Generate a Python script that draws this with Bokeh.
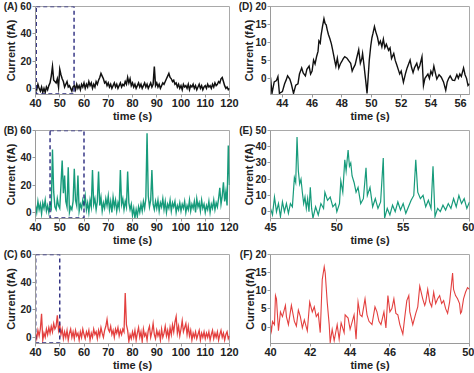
import numpy as np
from bokeh.plotting import figure
from bokeh.layouts import column, row
from bokeh.models import Range1d, FixedTicker
from bokeh.embed import file_html
from bokeh.resources import INLINE

FONT = "Liberation Sans"

# ---------------- data ----------------
a_vals = [2, -1, 3, 0, -2, 1, -3, 0, -3, 1, -1, 2, 4, 9, 16, 6, 5, 4, 7, 1, 14,
          10, 7, 5, 1, 3, 5, 1, 2, 0, -2, 1, 2, -1, 3, 0, 2, -1, 3, 1, 4,
          0, 3, 1, 5, 2, 4, 0, 3, 1, 5, 3, 6, 8, 11, 9, 7, 4, 5, 2, 4,
          1, 3, 0, 2, 4, 1, 3, 0, 2, 4, 1, 3, 2, 5, 3, 8, 4, 7, 2, 4,
          1, 3, 0, 2, 4, 1, 3, 0, 2, 4, 1, 3, 0, 2, 4, 1, 3, 16, 2, 4,
          1, 3, 0, 2, 4, 3, 5, 7, 9, 11, 8, 7, 5, 6, 3, 4, 1, 3, 0, 2,
          -1, 3, 1, 2, 0, 3, -1, 2, 1, 3, 0, 2, -1, 1, 3, 0, 2, -1, 1, 2,
          0, 3, 1, 2, 0, 3, 1, 4, 2, 3, 5, 4, 7, 8, 5, 2, 0, 1, -1, 0]

b_vals = [5, 0, 8, 2, 6, -1, 7, 3, 9, 1, 5, 0, 6, 3, 46, 15, 4, 2, 10, 5, 3,
          20, 38, 14, 27, 8, 4, 33, 0, 4, 2, 8, 32, 9, 5, 27, 1, 6, 3, 9, 5,
          12, 2, 7, 0, 9, 4, 31, 6, 10, 2, 8, 30, 5, 11, 1, 7, 3, 10, 5, 12,
          2, 8, 0, 11, 4, 9, 1, 7, 3, 31, 6, 10, 2, 8, 4, 30, 7, 2, 6, -2,
          3, -4, 2, -3, 4, 0, 6, 1, 8, 3, 10, 58, 12, 4, 9, 31, 6, 2, 8, 3,
          9, 1, 7, 4, 10, 2, 8, 0, 6, 3, 9, 1, 7, 4, 8, 0, 5, 2, 7, 1,
          6, 3, 8, 0, 5, 2, 9, 1, 6, 3, 8, 0, 10, 4, 7, 1, 9, 3, 6, 0,
          5, 2, 8, 0, 6, 3, 9, 2, 7, 4, 10, 18, 6, 12, 22, 8, 15, 5, 49, 20]

c_vals = [3, -1, 5, 1, 6, 17, -2, 3, 0, 6, 2, 7, 3, 8, 4, 10, 6, 8, 16, 5, 9,
          2, 6, -1, 4, 0, 5, -2, 3, 6, 0, 4, -1, 5, 1, 3, -2, 4, 0, 6, 2,
          -1, 4, 1, 5, -2, 3, 0, 6, 2, 4, -1, 5, 1, 7, 3, 0, 5, 8, 13, 6,
          4, 8, 2, 5, 0, 6, 3, 7, 1, 5, 2, 6, 4, 32, 9, 5, -3, 2, -1, 4,
          0, 5, -2, 3, 7, 0, 4, -3, 6, 1, 3, -2, 5, 8, 0, 4, 10, 2, -1, 5,
          1, 4, -2, 6, 0, 3, 8, 1, 5, -1, 7, 2, 9, 4, 11, 15, 3, 8, 1, 6,
          12, 4, 7, 10, 2, 8, 1, 5, -2, 3, 0, 4, -1, 2, 5, -2, 3, 0, 4, -1,
          3, 0, 4, -2, 2, 5, -1, 3, 0, 4, -2, 2, 5, 0, 3, -2, 2, 4, -1, 1]

d_t = [43.2, 43.3, 43.45, 43.6, 43.7, 43.8, 44.0, 44.15, 44.25, 44.35, 44.5, 44.6, 44.75,
       44.9, 45.05, 45.15, 45.3, 45.4, 45.55, 45.65, 45.8, 45.9, 46.0, 46.1, 46.2, 46.3,
       46.4, 46.46, 46.55, 46.6, 46.7, 46.8, 46.88, 46.95, 47.02, 47.1, 47.2, 47.3, 47.38,
       47.45, 47.52, 47.6, 47.7, 47.8, 47.9, 48.0, 48.1, 48.2, 48.35, 48.45, 48.6, 48.7,
       48.8, 48.9, 49.0, 49.14, 49.25, 49.35, 49.4, 49.5, 49.55, 49.62, 49.7, 49.78, 49.85,
       49.95, 50.03, 50.1, 50.2, 50.3, 50.4, 50.5, 50.6, 50.7, 50.8, 50.9, 51.0, 51.15,
       51.25, 51.35, 51.5, 51.6, 51.7, 51.8, 51.9, 52.0, 52.15, 52.3, 52.4, 52.5, 52.6,
       52.7, 52.8, 52.9, 53.05, 53.15, 53.25, 53.4, 53.5, 53.6, 53.8, 53.9, 54.0, 54.1,
       54.2, 54.3, 54.4, 54.55, 54.7, 54.85, 55.0, 55.1, 55.2, 55.3, 55.45, 55.6, 55.75,
       55.85, 55.95, 56.05, 56.2, 56.3, 56.4, 56.5, 56.6]
d_v = [0.3, -4.2, -1.0, -0.6, 0.5, -4.2, -3.7, -1.5, -0.5, 0.7, -0.2, -1.5, -4.2,
       -1.9, -1.5, 1.2, 2.9, 1.5, 0.7, 2.5, 3.4, 1.2, 2.0, 5.1, 4.0, 6.0,
       7.5, 10.4, 9.8, 11.8, 14.4, 16.6, 15.2, 14.9, 13.5, 12.2, 11.0, 9.6, 8.0,
       6.5, 5.0, 3.4, 5.6, 2.9, 4.0, 4.7, 5.5, 6.0, 5.6, 5.0, 4.2, 2.0,
       3.0, 3.8, 5.6, 8.0, 4.2, 5.5, 6.9, 3.5, 1.6, -1.0, -4.2, 0.5, 5.0,
       9.0, 11.3, 12.5, 14.4, 12.8, 11.5, 9.5, 10.4, 8.8, 10.9, 8.5, 9.5, 7.8,
       8.5, 5.5, 6.9, 5.0, 3.8, 2.5, 1.2, 2.0, -1.1, 1.5, 2.9, 4.0, 5.1,
       3.0, 1.6, 3.0, 4.2, 2.5, 3.5, 6.0, -2.0, 0.0, 1.2, 0.0, 2.0, 1.0,
       3.4, 1.5, -0.2, 1.0, 0.3, -1.0, -3.3, -1.0, 0.0, 0.7, -0.5, -0.6, 1.0,
       0.0, 1.2, 0.5, 2.9, 1.0, 0.0, -2.0, -1.5]

e_t = [45.0, 45.15, 45.3, 45.45, 45.6, 45.75, 45.9, 46.05, 46.2, 46.35, 46.5, 46.65, 46.8,
       46.9, 47.0, 47.1, 47.2, 47.3, 47.4, 47.5, 47.6, 47.7, 47.8, 47.9, 48.0, 48.1,
       48.2, 48.4, 48.6, 48.8, 49.0, 49.1, 49.3, 49.5, 49.7, 49.9, 50.0, 50.2, 50.3,
       50.45, 50.6, 50.7, 50.85, 50.95, 51.05, 51.15, 51.3, 51.45, 51.6, 51.8, 52.0, 52.2,
       52.3, 52.5, 52.7, 52.9, 53.1, 53.3, 53.5, 53.6, 53.8, 54.0, 54.2, 54.4, 54.6,
       54.8, 55.0, 55.2, 55.4, 55.6, 55.8, 55.95, 56.1, 56.3, 56.5, 56.7, 56.9, 57.1,
       57.25, 57.4, 57.6, 57.8, 58.0, 58.2, 58.4, 58.6, 58.8, 59.0, 59.2, 59.4, 59.6,
       59.8, 60.0]
e_v = [2, -2, 9, 0, 5, -3, 6, 0, 5, -1, 5, 3, 21,
       18, 46, 25, 17, 20, 12, 5, 9, 2, 8, 0, 15, 2,
       -4, 3, -2, 5, 2, 12, 7, 9, 3, 5, 0, 5, 19,
       12, 32, 25, 38, 28, 30, 22, 18, 12, 15, 5, 8, 27,
       10, 15, 3, 8, 2, 6, 33, -4, 2, -2, 4, 0, 6,
       1, 5, -1, 3, 7, 10, 32, 12, 8, 10, 3, 7, 2,
       28, -3, 2, 0, 4, 1, 5, 2, 8, 3, 10, 5, 8,
       2, 6]

f_t = [40.0, 40.05, 40.1, 40.2, 40.25, 40.3, 40.4, 40.5, 40.6, 40.75, 40.8, 40.9, 41.05,
       41.2, 41.3, 41.4, 41.5, 41.6, 41.7, 41.85, 41.97, 42.1, 42.2, 42.3, 42.4, 42.5,
       42.6, 42.7, 42.75, 42.85, 42.95, 43.0, 43.1, 43.2, 43.35, 43.45, 43.55, 43.7, 43.75,
       43.9, 44.0, 44.2, 44.3, 44.4, 44.5, 44.6, 44.75, 44.85, 44.95, 45.1, 45.25, 45.35,
       45.45, 45.55, 45.7, 45.8, 45.9, 46.0, 46.1, 46.2, 46.3, 46.4, 46.5, 46.65, 46.75,
       46.85, 46.95, 47.0, 47.15, 47.3, 47.4, 47.5, 47.65, 47.75, 47.8, 47.9, 48.0, 48.1,
       48.2, 48.3, 48.4, 48.5, 48.6, 48.7, 48.8, 48.9, 49.0, 49.15, 49.2, 49.3, 49.4,
       49.5, 49.55, 49.6, 49.7, 49.8, 49.9, 50.0]
f_v = [0.7, -1.0, 1.6, 0.7, 8.7, 7.8, -1.0, 4.2, 2.9, 6.0, 2.9, 0.7, 6.0,
       1.6, 0.3, 4.7, 2.9, -0.2, 2.0, -1.0, 6.9, 4.2, 5.6, 2.9, 3.8, -1.5,
       13.1, 16.6, 14.9, 6.9, 0.7, -4.2, -0.6, -3.7, 0.7, -3.3, 1.2, -1.5, 3.4,
       2.5, -0.6, 3.4, -3.3, 6.9, 3.4, 2.9, 7.8, 3.4, 1.6, 0.7, 5.6, 4.2,
       1.6, 0.7, 4.2, -0.2, 8.7, 4.2, 5.1, 7.8, 3.8, 3.4, 0.7, -1.9, 2.9,
       7.3, 8.7, 4.2, 0.7, 3.8, 5.6, 11.3, 7.8, 6.0, 6.9, 10.4, 6.9, 5.6,
       9.6, 6.5, 7.8, 8.7, 6.5, 7.3, 5.1, 3.8, 6.9, 14.9, 10.4, 8.7, 7.8,
       6.5, 3.8, 4.2, 7.8, 9.6, 10.9, 10.4]

wide_x = [40, 120]
wide_y = [-4.5, 60]
wide_xt = [40, 50, 60, 70, 80, 90, 100, 110, 120]
wide_yt = [0, 20, 40, 60]
d_x, d_y, d_xt, d_yt = [43.2, 56.6], [-4.5, 20], [44, 46, 48, 50, 52, 54, 56], [0, 5, 10, 15, 20]
e_x, e_y, e_xt, e_yt = [45, 60], [-4.2, 50], [45, 50, 55, 60], [0, 10, 20, 30, 40, 50]
f_x, f_y, f_xt, f_yt = [40, 50], [-4.5, 20], [40, 42, 44, 46, 48, 50], [0, 5, 10, 15, 20]

box_a = [40.3, 55.9]
box_b = [46.0, 60.0]
box_c = [40.1, 50.0]

BLACK = "#111111"
GREEN = "#179b7b"
RED = "#e3403f"
BOX = "#2a2a7e"


def panel(letter, t, v, color, xr, yr, xt, yt, w, h, bl, br, bt, label_shift, box=None, lw=1.1):
    p = figure(width=w, height=h, output_backend="svg", toolbar_location=None, tools="",
               x_range=Range1d(*xr), y_range=Range1d(*yr),
               min_border_left=bl, min_border_right=br, min_border_top=bt, min_border_bottom=29)
    p.grid.visible = False
    p.outline_line_color = "#a9a9a9"
    p.outline_line_width = 1
    for ax in (p.xaxis[0], p.yaxis[0]):
        ax.axis_line_color = "#9a9a9a"
        ax.major_tick_line_color = "#9a9a9a"
        ax.minor_tick_line_color = None
        ax.major_tick_in = 0
        ax.major_tick_out = 3
        ax.major_label_text_font = FONT
        ax.major_label_text_font_style = "bold"
        ax.major_label_text_color = "#222222"
        ax.axis_label_text_font = FONT
        ax.axis_label_text_font_style = "bold"
        ax.axis_label_text_color = "#222222"
        ax.axis_label_text_font_size = "11px"
        ax.major_label_standoff = 1
        ax.axis_label_standoff = 0
    p.xaxis[0].major_label_text_font_size = "11px"
    p.yaxis[0].major_label_text_font_size = "10px"
    p.xaxis[0].ticker = FixedTicker(ticks=xt)
    p.yaxis[0].ticker = FixedTicker(ticks=yt)
    p.xaxis[0].axis_label = "time (s)"
    p.yaxis[0].axis_label = "Current (fA)"
    # panel letter shown beside the top y tick label, as in the reference
    p.yaxis[0].major_label_overrides = {yt[-1]: f"({letter}) {yt[-1]}"}
    p.yaxis[0].axis_label_standoff = label_shift
    p.line(t, v, line_color=color, line_width=lw, line_join="miter")
    if box is not None:
        p.quad(left=[box[0]], right=[box[1]], bottom=[yr[0] + 0.4], top=[yr[1]],
               fill_alpha=0, line_color=BOX, line_dash="4 3", line_width=1.4)
    return p


def wide_t(vals):
    return np.linspace(wide_x[0], wide_x[1], len(vals))


WL, WR = 239, 235
pa = panel("A", wide_t(a_vals), a_vals, BLACK, wide_x, wide_y, wide_xt, wide_yt, WL, 124, 35, 10, 6, -16, box_a, lw=1.5)
pd = panel("D", d_t, d_v, BLACK, d_x, d_y, d_xt, d_yt, WR, 124, 31, 5, 6, -19, lw=1.4)
pb = panel("B", wide_t(b_vals), b_vals, GREEN, wide_x, wide_y, wide_xt, wide_yt, WL, 124, 35, 10, 6, -16, box_b, lw=1.4)
pe = panel("E", e_t, e_v, GREEN, e_x, e_y, e_xt, e_yt, WR, 124, 31, 5, 6, -19, lw=1.2)
pc = panel("C", wide_t(c_vals), c_vals, RED, wide_x, wide_y, wide_xt, wide_yt, WL, 125, 35, 10, 6, -16, box_c, lw=1.3)
pf = panel("F", f_t, f_v, RED, f_x, f_y, f_xt, f_yt, WR, 125, 31, 5, 6, -19, lw=1.1)

p = column(row(pa, pd), row(pb, pe), row(pc, pf))

open("out.html", "w").write(file_html(p, INLINE))
